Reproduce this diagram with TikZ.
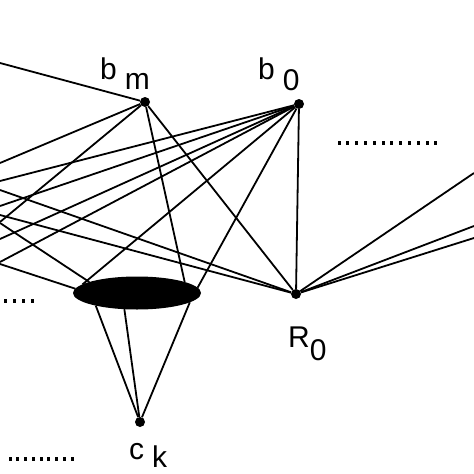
\documentclass[tikz,border=0pt]{standalone}
\usepackage{fontspec}
\setmainfont{Liberation Sans}
\usetikzlibrary{shapes.geometric}
\begin{document}
\begin{tikzpicture}[x=1pt,y=-1pt,
  ln/.style={line width=1.8pt},
  dot/.style={circle,fill=black,inner sep=0pt,minimum size=10pt},
  blob/.style={ellipse,fill=black,inner sep=0pt,outer sep=0pt,minimum width=128pt,minimum height=33pt},
  lab/.style={font=\fontsize{30}{30}\selectfont,inner sep=0pt,anchor=base west}]
\useasboundingbox (0,0) rectangle (474,474);
% nodes
\node[dot] (bm) at (145,102) {};
\node[dot] (b0) at (299,104) {};
\node[dot] (R0) at (296,294) {};
\node[dot] (ck) at (140,422) {};
\node[blob] (E) at (137,293) {};
% labels
\node[lab] (lbm) at (100,79) {b\hspace{8pt}\raisebox{-10pt}{m}};
\node[lab] (lb0) at (258,79) {b\hspace{8pt}\raisebox{-11pt}{0}};
\node[lab] (lR0) at (288,347) {R\raisebox{-13pt}{0}};
\node[lab] (lck) at (129,459) {c\hspace{8pt}\raisebox{-8pt}{k}};
% free ends
\coordinate (L1) at (0,63);
\coordinate (L2) at (0,163);
\coordinate (L3) at (0,222);
\coordinate (L4) at (0,181);
\coordinate (L5) at (0,206);
\coordinate (L6) at (0,239);
\coordinate (L7) at (0,262);
\coordinate (L8) at (0,190);
\coordinate (L9) at (0,215);
\coordinate (L10) at (0,223);
\coordinate (L11) at (0,264);
\coordinate (Q1) at (474,173);
\coordinate (Q2) at (474,226);
\coordinate (Q3) at (474,238);
% connectors of bm
\draw[ln] (L1) -- (bm);
\draw[ln] (L2) -- (bm);
\draw[ln] (L3) -- (bm);
\draw[ln] (bm) -- (E.13.6);
\draw[ln] (bm) -- (R0);
% connectors of b0
\draw[ln] (L4) -- (b0);
\draw[ln] (L5) -- (b0);
\draw[ln] (L6) -- (b0);
\draw[ln] (L7) -- (b0);
\draw[ln] (b0) -- (E.5.3);
\draw[ln] (b0) -- (E.171);
\draw[ln] (b0) -- (R0);
% connectors of R0
\draw[ln] (L8) -- (R0);
\draw[ln] (L9) -- (R0);
\draw[ln] (R0) -- (Q1);
\draw[ln] (R0) -- (Q2);
\draw[ln] (R0) -- (Q3);
% connectors of the ellipse
\draw[ln] (L10) -- (E.167);
\draw[ln] (L11) -- (E.176);
\draw[ln] (E.197.4) -- (ck);
\draw[ln] (E.232.6) -- (ck);
\draw[ln] (E.350.4) -- (ck);
% dotted rows
\foreach \i in {0,...,11} \fill (337.5+\i*8.8,141) rectangle ++(3,4);
\foreach \i in {0,...,3} \fill (3.5+\i*9.3,299) rectangle ++(3,4);
\foreach \i in {0,...,8} \fill (8.5+\i*7.75,457) rectangle ++(3,4);
\end{tikzpicture}
\end{document}
